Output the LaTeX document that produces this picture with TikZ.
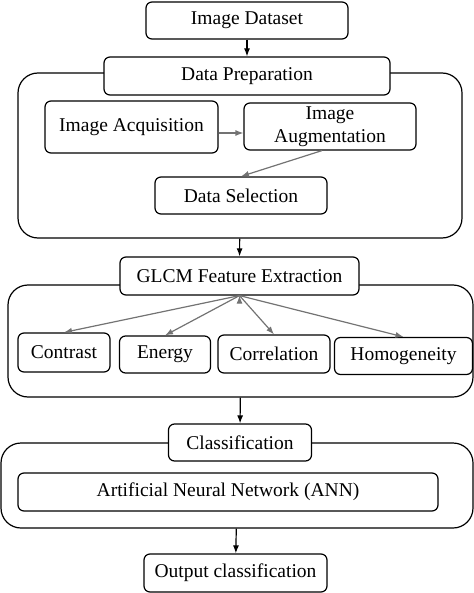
\documentclass[tikz,border=0pt]{standalone}
\usepackage{fontspec}
\setmainfont{Liberation Serif}
\usetikzlibrary{arrows.meta}
\tikzset{>/.tip={Latex[length=4pt,width=3pt]}}

\begin{document}
\begin{tikzpicture}[x=0.5pt,y=-0.5pt,line width=0.6pt,
    font=\fontsize{9.75}{11.5}\selectfont,
    box/.style={draw,fill=white,rounded corners=3pt,inner sep=0pt,minimum height=18.5pt,align=center},
    group/.style={draw,rounded corners=10pt,inner sep=0pt},
    thin arrow/.style={->,black!55}]
  \useasboundingbox (0,0) rectangle (474,593);
  % the three frames
  \node[group,minimum width=222pt,minimum height=82.5pt](G1) at (240,155.5){};
  \node[group,minimum width=232.5pt,minimum height=56pt](G2) at (240.5,341){};
  \node[group,minimum width=236pt,minimum height=42.5pt](G3) at (237,485.5){};

  \node[box,minimum width=101pt](data) at (247,20.5){Image Dataset};
  \node[box,minimum width=143pt,minimum height=19pt](prep) at (247,76){Data Preparation};
  \node[box,minimum width=86.5pt,minimum height=26pt](acq) at (131.5,127){Image Acquisition};
  \node[box,minimum width=86pt,minimum height=23.5pt](aug) at (330,126.5){Image\\Augmentation};
  \node[box,minimum width=86pt](sel) at (241,195.5){Data Selection};

  \node[box,minimum width=119.5pt,minimum height=19pt](glcm) at (239.5,276){GLCM Feature Extraction};
  \node[box,minimum width=46pt,minimum height=19.5pt](con) at (64,352.5){Contrast};
  \node[box,minimum width=45.5pt](ene) at (165,354.5){Energy};
  \node[box,minimum width=56pt,minimum height=19pt](cor) at (274,354){Correlation};
  \node[box,minimum width=69pt](hom) at (403.5,356){Homogeneity};

  \node[box,minimum width=71.5pt](cls) at (240,442.5){Classification};
  \node[box,minimum width=210pt,minimum height=19pt](ann) at (228,492){Artificial Neural Network (ANN)};
  \node[box,minimum width=91.5pt,minimum height=19pt](out) at (235.5,573){Output classification};

  \draw[->] (data) -- (prep);
  \draw[thin arrow] ([yshift=-3pt]acq.east) -- ([yshift=-3pt]acq.east -| aug.west);
  \draw[thin arrow] ([xshift=-4pt]aug.south) -- (sel.north);
  \draw[->] (G1) -- (glcm);
  \draw[thin arrow] (glcm.south) edge (con.north) edge (ene.north)
    edge (cor.north) edge (hom.north);
  \draw[->] (G2) -- (cls);
  \draw[->] (G3) -- (out);
\end{tikzpicture}
\end{document}
